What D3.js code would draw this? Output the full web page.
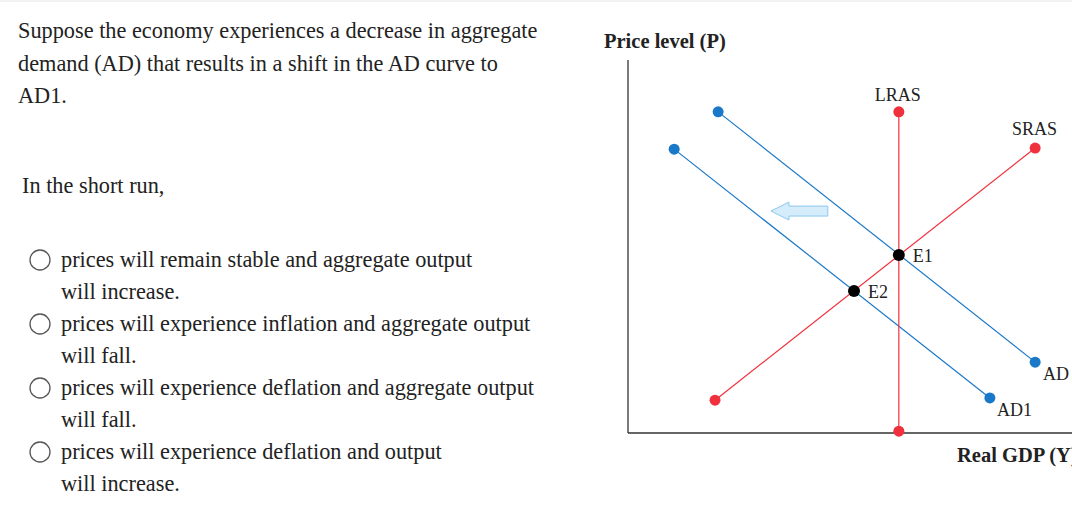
<!DOCTYPE html><html><head><meta charset="utf-8">
<script src="https://cdn.jsdelivr.net/npm/d3@7"></script>
<style>body{margin:0;background:#fff;overflow:hidden}svg{display:block}</style></head><body>
<script>
const introLines=["Suppose the economy experiences a decrease in aggregate","demand (AD) that results in a shift in the AD curve to","AD1."];
const prompt="In the short run,";
const options=[["prices will remain stable and aggregate output","will increase."],["prices will experience inflation and aggregate output","will fall."],["prices will experience deflation and aggregate output","will fall."],["prices will experience deflation and output","will increase."]];
const adCurve=[[20.3,86.1],[91.7,19.0]];
const ad1Curve=[[10.4,76.1],[81.5,9.4]];
const lrasCurve=[[61.0,86.1],[61.0,0.5]];
const srasCurve=[[19.6,8.8],[91.7,76.4]];
const equilibria=[{name:"E1",x:61.0,y:47.7},{name:"E2",x:50.9,y:38.1}];
const shiftArrow={from:45.0,to:32.2,y:59.5};

const W=1072,H=521;
const svg=d3.select("body").append("svg").attr("width",W).attr("height",H).style("font-family","'Liberation Serif','Times New Roman',serif");
svg.append("line").attr("x1",0).attr("x2",W).attr("y1",1).attr("y2",1).attr("stroke","#e6e6e6");
const fs=22.3;
introLines.forEach((t,i)=>svg.append("text").attr("x",18).attr("y",38+i*32.5).attr("font-size",fs).attr("fill","#222").text(t));
svg.append("text").attr("x",22).attr("y",193).attr("font-size",fs).attr("fill","#222").text(prompt);
options.forEach((o,i)=>{const y0=260+i*64;
 svg.append("circle").attr("cx",40).attr("cy",y0).attr("r",10).attr("fill","#fff").attr("stroke","#555").attr("stroke-width",1.3);
 svg.append("text").attr("x",61).attr("y",y0+7).attr("font-size",fs).attr("fill","#222").text(o[0]);
 svg.append("text").attr("x",61).attr("y",y0+39).attr("font-size",fs).attr("fill","#222").text(o[1]);});

const x=d3.scaleLinear().domain([0,100]).range([628,1072]);
const y=d3.scaleLinear().domain([0,100]).range([433,60]);
svg.append("line").attr("x1",x(0)).attr("x2",x(0)).attr("y1",y(100)).attr("y2",y(0)).attr("stroke","#333").attr("stroke-width",1.3);
svg.append("line").attr("x1",x(0)).attr("x2",x(100)).attr("y1",y(0)).attr("y2",y(0)).attr("stroke","#333").attr("stroke-width",1.3);
svg.append("text").attr("x",604).attr("y",48).attr("font-size",20.5).attr("font-weight","bold").attr("fill","#222").text("Price level (P)");
svg.append("text").attr("x",957).attr("y",462).attr("font-size",20.5).attr("font-weight","bold").attr("fill","#222").text("Real GDP (Y)");
const line=d3.line().x(d=>x(d[0])).y(d=>y(d[1]));
function curve(pts,col){svg.append("path").attr("d",line(pts)).attr("stroke",col).attr("stroke-width",1.2).attr("fill","none");
 pts.forEach(p=>svg.append("circle").attr("cx",x(p[0])).attr("cy",y(p[1])).attr("r",5.5).attr("fill",col));}
const blue="#1a78c8",red="#f0303c";
const ax1=x(shiftArrow.from),ax2=x(shiftArrow.to),ay=y(shiftArrow.y);
svg.append("path").attr("d",`M${ax1},${ay-5}L${ax2+18},${ay-5}L${ax2+18},${ay-9}L${ax2},${ay}L${ax2+18},${ay+9}L${ax2+18},${ay+5}L${ax1},${ay+5}Z`).attr("fill","#d5ecfb").attr("stroke","#8cc8f0").attr("stroke-width",1);
curve(adCurve,blue);curve(ad1Curve,blue);curve(lrasCurve,red);curve(srasCurve,red);
equilibria.forEach(e=>{svg.append("circle").attr("cx",x(e.x)).attr("cy",y(e.y)).attr("r",6).attr("fill","#000");
 svg.append("text").attr("x",x(e.x)+14).attr("y",y(e.y)+7).attr("font-size",18).attr("fill","#222").text(e.name);});
const lab=(t,px,py)=>svg.append("text").attr("x",px).attr("y",py).attr("font-size",18).attr("fill","#222").text(t);
lab("LRAS",x(61.0)-24,101);lab("SRAS",1012,135);lab("AD",1043,380);lab("AD1",997,416);
</script></body></html>
